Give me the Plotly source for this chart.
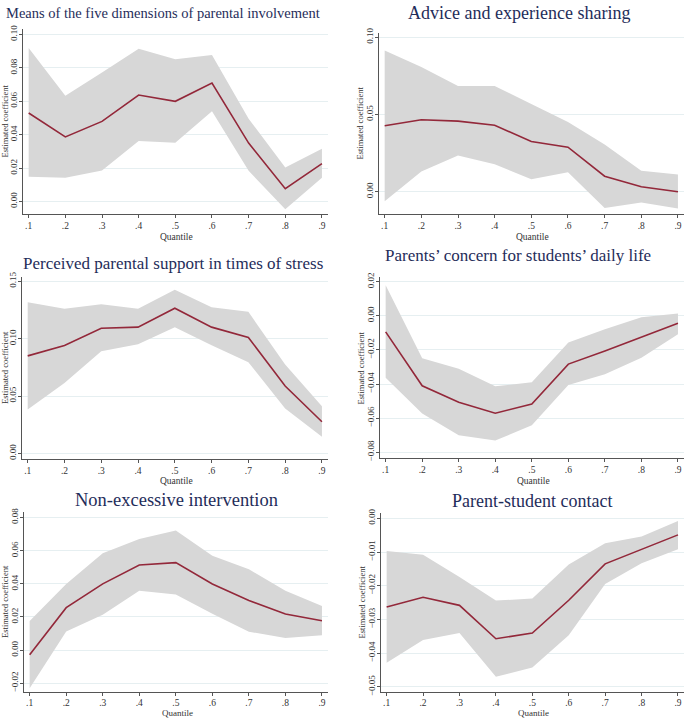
import plotly.graph_objects as go

W, H = 685, 724

quantiles = [0.1, 0.2, 0.3, 0.4, 0.5, 0.6, 0.7, 0.8, 0.9]
quantile_labels = [".1", ".2", ".3", ".4", ".5", ".6", ".7", ".8", ".9"]

titles = [
    "Means of the five dimensions of parental involvement",
    "Advice and experience sharing",
    "Perceived parental support in times of stress",
    "Parents\u2019 concern for students\u2019 daily life",
    "Non-excessive intervention",
    "Parent-student contact",
]

means_coef = [0.053, 0.0387, 0.048, 0.0638, 0.060, 0.071, 0.035, 0.0077, 0.0227]
means_hi = [0.0919, 0.0634, 0.0773, 0.0915, 0.0852, 0.0877, 0.0496, 0.0204, 0.0316]
means_lo = [0.0148, 0.0142, 0.0186, 0.0362, 0.0352, 0.054, 0.0184, -0.0047, 0.0142]

advice_coef = [0.0427, 0.0466, 0.0457, 0.043, 0.0325, 0.0288, 0.010, 0.0032, 0.000]
advice_hi = [0.0915, 0.0808, 0.0684, 0.0684, 0.0568, 0.0451, 0.0306, 0.0135, 0.0111]
advice_lo = [-0.0062, 0.013, 0.0235, 0.0177, 0.0081, 0.0126, -0.0105, -0.007, -0.0109]

support_coef = [0.085, 0.094, 0.109, 0.110, 0.1265, 0.110, 0.101, 0.0588, 0.0277]
support_hi = [0.1317, 0.126, 0.130, 0.126, 0.1426, 0.1274, 0.1233, 0.0775, 0.0412]
support_lo = [0.0383, 0.0614, 0.089, 0.0951, 0.110, 0.0942, 0.0795, 0.0392, 0.0147]

concern_coef = [-0.0094, -0.041, -0.0506, -0.0571, -0.0517, -0.0283, -0.0206, -0.0123, -0.0044]
concern_hi = [0.0179, -0.0248, -0.031, -0.0413, -0.039, -0.0156, -0.0079, -0.0008, 0.0013]
concern_lo = [-0.0363, -0.0573, -0.070, -0.0731, -0.0642, -0.0406, -0.0342, -0.0246, -0.0108]

nonexc_coef = [-0.0028, 0.0256, 0.040, 0.0514, 0.0528, 0.0399, 0.030, 0.0218, 0.0177]
nonexc_hi = [0.0175, 0.0399, 0.0585, 0.067, 0.0722, 0.0569, 0.0488, 0.0359, 0.0266]
nonexc_lo = [-0.023, 0.0113, 0.0214, 0.0359, 0.0335, 0.022, 0.0111, 0.0073, 0.0089]

contact_coef = [-0.0263, -0.0234, -0.0258, -0.0357, -0.034, -0.0243, -0.0135, -0.0093, -0.0049]
contact_hi = [-0.0097, -0.0108, -0.0174, -0.0244, -0.0238, -0.0137, -0.0074, -0.0054, -0.0008]
contact_lo = [-0.0428, -0.0361, -0.034, -0.047, -0.0442, -0.0347, -0.0195, -0.0133, -0.0092]

y_ticks = [
    [0.00, 0.02, 0.04, 0.06, 0.08, 0.10],
    [0.00, 0.05, 0.10],
    [0.00, 0.05, 0.10, 0.15],
    [-0.08, -0.06, -0.04, -0.02, 0.00, 0.02],
    [-0.02, 0.00, 0.02, 0.04, 0.06, 0.08],
    [-0.05, -0.04, -0.03, -0.02, -0.01, 0.00],
]

series = [
    (means_coef, means_lo, means_hi),
    (advice_coef, advice_lo, advice_hi),
    (support_coef, support_lo, support_hi),
    (concern_coef, concern_lo, concern_hi),
    (nonexc_coef, nonexc_lo, nonexc_hi),
    (contact_coef, contact_lo, contact_hi),
]

# layout geometry (pixels): left, right, top, bottom of plot area
boxes = [
    (23, 328, 24, 212),
    (379, 684, 28, 212),
    (22, 328, 275, 460),
    (380, 684, 275, 459),
    (24, 328, 513, 696),
    (381, 684, 514, 696),
]
y_ranges = [
    [-0.0077, 0.1035],
    [-0.0147, 0.103],
    [-0.005, 0.154],
    [-0.0835, 0.023],
    [-0.0255, 0.0836],
    [-0.0516, 0.0017],
]
x_range = [0.0845, 0.9165]
title_pos = [(163, 8, 14.5), (519, 8, 18), (173, 262, 17), (518, 254, 17), (176, 501, 18.5), (532, 502, 18)]
quantile_top = [228, 228, 475, 475, None, None]
x_standoff = [-1, -1, -1, -1, -2, -2]

LINE = "#93283a"
BAND = "#d7d7d7"
AXIS = "#555555"
GRID = "#e6eff1"
TITLE = "#1f2d5a"
FONT = "Liberation Serif, Times New Roman, serif"

fig = go.Figure()
annotations = []
for i, ((coef, lo, hi), ticks) in enumerate(zip(series, y_ticks)):
    n = i + 1
    xa = "x" if n == 1 else f"x{n}"
    ya = "y" if n == 1 else f"y{n}"
    fig.add_trace(go.Scatter(x=quantiles, y=lo, xaxis=xa, yaxis=ya, mode="lines",
                             line=dict(width=0, color=BAND), showlegend=False, hoverinfo="skip"))
    fig.add_trace(go.Scatter(x=quantiles, y=hi, xaxis=xa, yaxis=ya, mode="lines",
                             line=dict(width=0, color=BAND), fill="tonexty", fillcolor=BAND,
                             showlegend=False, hoverinfo="skip"))
    fig.add_trace(go.Scatter(x=quantiles, y=coef, xaxis=xa, yaxis=ya, mode="lines",
                             line=dict(width=1.6, color=LINE), showlegend=False))
    l, r, t, b = boxes[i]
    xkey = "xaxis" if n == 1 else f"xaxis{n}"
    ykey = "yaxis" if n == 1 else f"yaxis{n}"
    fig.update_layout(**{
        xkey: dict(domain=[l / W, r / W], range=x_range, anchor=ya,
                   tickvals=quantiles, ticktext=quantile_labels,
                   showline=True, linecolor=AXIS, linewidth=1, ticks="outside",
                   ticklen=3, tickcolor=AXIS, showgrid=False, zeroline=False,
                   ticklabelstandoff=x_standoff[i],
                   tickfont=dict(family=FONT, size=9.5, color="#333333")),
        ykey: dict(domain=[1 - b / H, 1 - t / H], range=y_ranges[i], anchor=xa,
                   tickvals=ticks, tickformat=".2f", tickangle=-90,
                   showline=True, linecolor=AXIS, linewidth=1, ticks="outside",
                   ticklen=3, tickcolor=AXIS, showgrid=True, gridcolor=GRID, gridwidth=1,
                   zeroline=False, ticklabelstandoff=-2,
                   tickfont=dict(family=FONT, size=9, color="#333333")),
    })
    tx, ty, ts = title_pos[i]
    annotations.append(dict(text=titles[i], x=tx / W, y=1 - ty / H, xref="paper", yref="paper",
                            xanchor="center", yanchor="middle", showarrow=False,
                            font=dict(family=FONT, size=ts, color=TITLE)))
    qt = quantile_top[i]
    annotations.append(dict(text="Quantile", x=((l + r) / 2 + 1) / W,
                            y=(1 - qt / H) if qt is not None else 0.0,
                            xref="paper", yref="paper", xanchor="center",
                            yanchor="top" if qt is not None else "bottom",
                            showarrow=False,
                            font=dict(family=FONT, size=9.5 if qt is not None else 9,
                                      color="#333333")))
    annotations.append(dict(text="Estimated coefficient", x=max(l - 19, 5) / W,
                            y=1 - ((t + b) / 2) / H,
                            xref="paper", yref="paper", xanchor="center", yanchor="middle",
                            textangle=-90, showarrow=False,
                            font=dict(family=FONT, size=8.5, color="#333333")))

fig.update_layout(width=W, height=H, margin=dict(l=0, r=0, t=0, b=0),
                  paper_bgcolor="white", plot_bgcolor="white", annotations=annotations)
fig.write_html("out.html")
